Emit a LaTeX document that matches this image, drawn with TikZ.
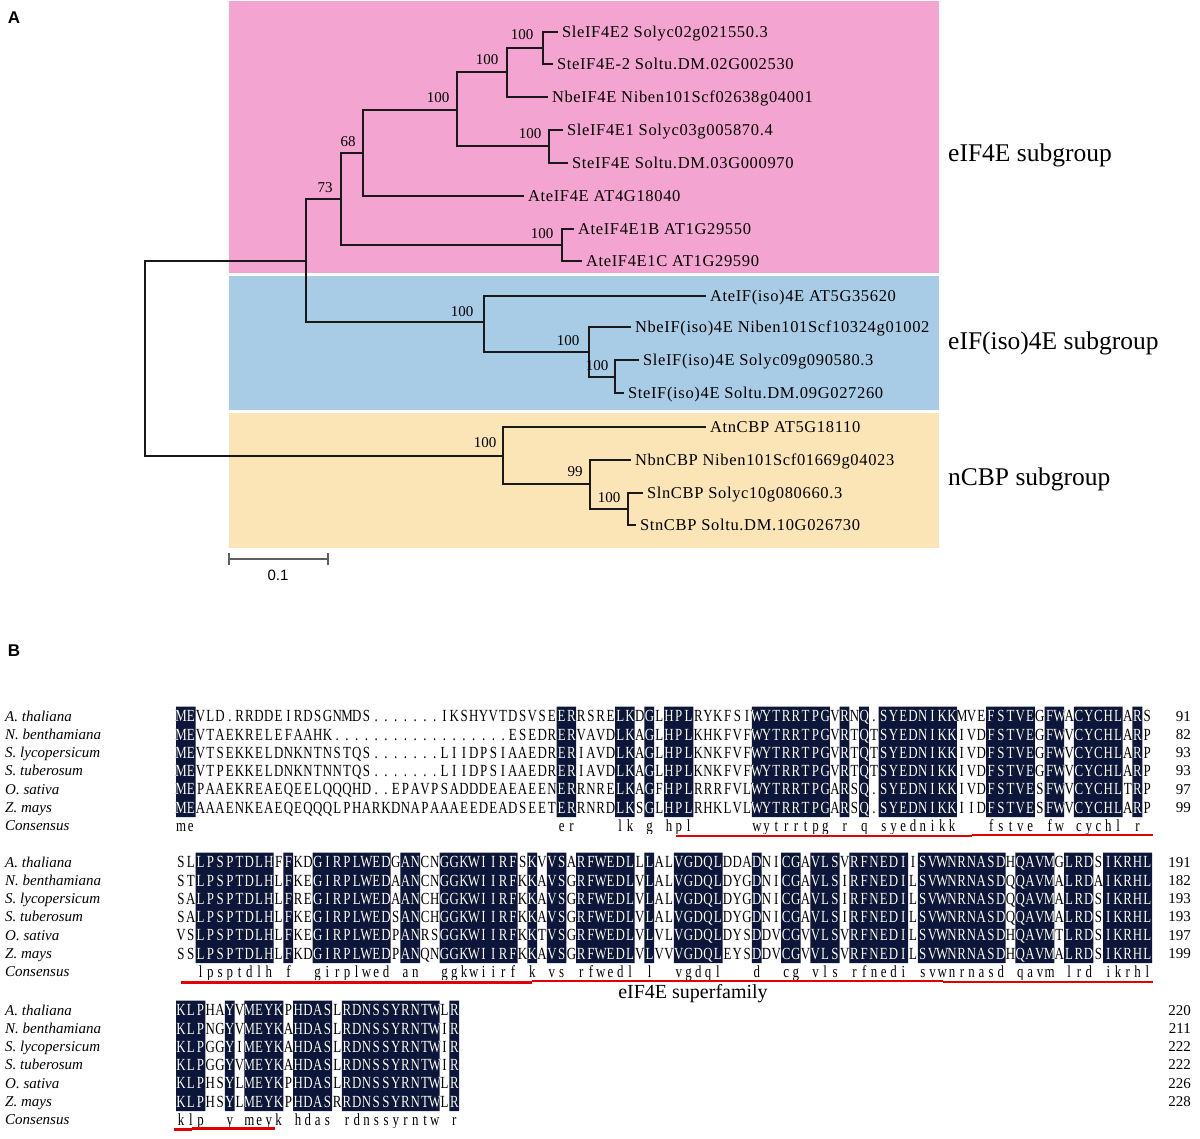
\documentclass[tikz,border=0pt]{standalone}
\usepackage{fontspec}
\setmainfont{Liberation Serif}
\newfontfamily\seqfont[FakeStretch=0.76]{Liberation Serif}
\newfontfamily\treefont[LetterSpace=4]{Liberation Serif}
\newfontfamily\panelfont{Liberation Sans}
\definecolor{pinkbg}{RGB}{244,164,208}
\definecolor{bluebg}{RGB}{168,204,230}
\definecolor{orangebg}{RGB}{251,228,181}
\definecolor{hlnavy}{RGB}{12,22,58}
\definecolor{domred}{RGB}{226,0,0}
\definecolor{bargray}{RGB}{95,95,95}
\newdimen\seqcellw \seqcellw=9.76pt
\def\seqloop#1{\ifx\relax#1\else\seqcell{#1}\expandafter\seqloop\fi}
\def\seqcell#1{\hbox to\seqcellw{\hss#1\hss}}
\newcommand\seqrow[1]{\expandafter\seqloop#1\relax}
\newcommand\lcseqrow[1]{\expandafter\lowercase\expandafter{\expandafter\seqloop#1\relax}}
% block 1
\def\rowAa{MEVLD.RRDDEIRDSGNMDS.......IKSHYVTDSVSEERRSRELKDGLHPLRYKFSIWYTRRTPGVRNQ.SYEDNIKKMVEFSTVEGFWACYCHLARS}
\def\rowAb{MEVTAEKRELEFAAHK..................ESEDRERVAVDLKAGLHPLKHKFVFWYTRRTPGVRTQTSYEDNIKKIVDFSTVEGFWVCYCHLARP}
\def\rowAc{MEVTSEKKELDNKNTNSTQS.......LIIDPSIAAEDRERIAVDLKAGLHPLKNKFVFWYTRRTPGVRTQTSYEDNIKKIVDFSTVEGFWVCYCHLARP}
\def\rowAd{MEVTPEKKELDNKNTNNTQS.......LIIDPSIAAEDRERIAVDLKAGLHPLKNKFVFWYTRRTPGVRTQTSYEDNIKKIVDFSTVEGFWVCYCHLARP}
\def\rowAe{MEPAAEKREAEQEELQQQHD..EPAVPSADDDEAEAEENERRNRELKAGFHPLRRRFVLWYTRRTPGARSQ.SYEDNIKKIVDFSTVESFWVCYCHLTRP}
\def\rowAf{MEAAAENKEAEQEQQQLPHARKDNAPAAAEEDEADSEETERRNRDLKSGLHPLRHKLVLWYTRRTPGARSQ.SYEDNIKKIIDFSTVESFWVCYCHLARP}
\def\rangesA{1/2,40/41,46/47,49/49,51/53,60/67,69/69,71/71,73/80,84/88,90/91,93/97,99/99}
% block 2
\def\rowBa{SLLPSPTDLHFFKDGIRPLWEDGANCNGGKWIIRFSKVVSARFWEDLLLALVGDQLDDADNICGAVLSVRFNEDIISVWNRNASDHQAVMGLRDSIKRHL}
\def\rowBb{STLPSPTDLHLFKEGIRPLWEDAANCNGGKWIIRFKKAVSGRFWEDLVLALVGDQLDYGDNICGAVLSIRFNEDILSVWNRNASDQQAVMALRDAIKRHL}
\def\rowBc{SALPSPTDLHLFREGIRPLWEDAANCHGGKWIIRFKKAVSGRFWEDLVLALVGDQLDYGDNICGAVLSIRFNEDILSVWNRNASDQQAVMALRDSIKRHL}
\def\rowBd{SALPSPTDLHLFKEGIRPLWEDSANCHGGKWIIRFKKAVSGRFWEDLVLALVGDQLDYGDNICGAVLSIRFNEDILSVWNRNASDQQAVMALRDSIKRHL}
\def\rowBe{VSLPSPTDLHLFKEGIRPLWEDPANRSGGKWIIRFKKTVSGRFWEDLVLVLVGDQLDYSDDVCGVVLSVRFNEDILSVWNRNASDHQAVMTLRDSIKRHL}
\def\rowBf{SSLPSPTDLHLFKDGIRPLWEDPANQNGGKWIIRFKKAVSGRFWEDLVLVVVGDQLEYSDDVCGVVLSVRFNEDILSVWNRNASDHQAVMALRDSIKRHL}
\def\rangesB{3/10,12/12,15/22,24/25,28/35,37/37,39/40,42/47,49/49,52/56,60/60,63/64,66/68,70/75,77/85,87/90,92/94,96/100}
% block 3
\def\rowCa{KLPHAYVMEYKPHDASLRDNSSYRNTWLR}
\def\rowCb{KLPNGYVMEYKAHDASLRDNSSYRNTWIR}
\def\rowCc{KLPGGYIMEYKAHDASLRDNSSYRNTWIR}
\def\rowCd{KLPGGYVMEYKAHDASLRDNSSYRNTWIR}
\def\rowCe{KLPHSYLMEYKPHDASLRDNSSYRNTWLR}
\def\rowCf{KLPHSYLMEYKPHDASRRDNSSYRNTWLR}
\def\rangesC{1/3,6/6,8/11,13/16,18/27,29/29}
\newcommand\alignblock[6]{%
  % #1 y0, #2 ranges, #3 rows, #4 numbers, #5 first row, #6 tag
  \fill[hlnavy] \foreach \a/\b in #2 {({176+(\a-1)*9.76},{#1-9.5}) rectangle ({176+\b*9.76},{#1+5*18.3+9.5})};
  \foreach \r [count=\i from 0] in {#3} {\node[seqtext,text=black] (seq#6\i) at (176,{#1+\i*18.3}) {\edef\tmpseq{\r}\seqrow\tmpseq};}
  \begin{scope}
    \clip \foreach \a/\b in #2 {({176+(\a-1)*9.76},{#1-9.5}) rectangle ({176+\b*9.76},{#1+5*18.3+9.5})};
    \foreach \r [count=\i from 0] in {#3} {\node[seqtext,text=white] (hl#6\i) at (176,{#1+\i*18.3}) {\edef\tmpseq{\r}\seqrow\tmpseq};}
  \end{scope}
  \begin{scope}
    \clip \foreach \a/\b in #2 {({176+(\a-1)*9.76},{#1+6*18.3-11}) rectangle ({176+\b*9.76},{#1+6*18.3+8})};
    \node[seqtext] (cons#6) at (176,{#1+6*18.3}) {\lcseqrow#5};
  \end{scope}
  \foreach \nm [count=\i from 0] in {A. thaliana,N. benthamiana,S. lycopersicum,S. tuberosum,O. sativa,Z. mays,Consensus} {\node[spname] (nm#6\i) at (5,{#1+\i*18.3}) {\nm};}
  \foreach \nn [count=\i from 0] in {#4} {\node[seqnum] (num#6\i) at (1191,{#1+\i*18.3}) {\nn};}
}
\begin{document}
\begin{tikzpicture}[x=1pt,y=-1pt,
  treeline/.style={line width=1.3pt, draw=black!90},
  leaflabel/.style={anchor=west, inner sep=0pt, outer xsep=4pt, text height=11.5pt, text depth=0pt, font=\treefont\fontsize{16.5}{19}\selectfont},
  bootlabel/.style={inner sep=0pt, text height=10.5pt, text depth=0pt, font=\fontsize{15}{18}\selectfont},
  grouplabel/.style={anchor=west, inner sep=0pt, text height=17pt, text depth=0pt, font=\fontsize{25.5}{30}\selectfont},
  seqtext/.style={anchor=west, inner sep=0pt, text height=11.5pt, text depth=0pt, font=\seqfont\fontsize{17}{20}\selectfont},
  spname/.style={anchor=west, inner sep=0pt, text height=10pt, text depth=0pt, font=\itshape\fontsize{15}{18}\selectfont},
  seqnum/.style={anchor=east, inner sep=0pt, text height=10pt, text depth=0pt, font=\fontsize{15}{18}\selectfont},
  panel/.style={inner sep=0pt, font=\panelfont\bfseries\fontsize{17}{20}\selectfont},
  domline/.style={draw=domred, line width=2.2pt},
  scalebar/.style={draw=bargray, line width=1.4pt},
]
\fill[white] (0,0) rectangle (1200,1139);
\useasboundingbox (0,0) rectangle (1200,1139);

% ---------------- Panel A ----------------
\node[panel] (labA) at (14,18) {A};
\fill[pinkbg] (229,1) rectangle (939,273);
\fill[bluebg] (229,276) rectangle (939,410);
\fill[orangebg] (229,413) rectangle (939,548);

\coordinate (R) at (145,359);
\coordinate (U) at (306,261);
\coordinate (N) at (503,456);
\coordinate (N73) at (341,199);
\coordinate (ISO) at (484,322);
\coordinate (N68) at (363,153);
\coordinate (AtB) at (562,245);
\coordinate (N100a) at (457,110);
\coordinate (N100b) at (507,72);
\coordinate (N100c) at (543,48);
\coordinate (N100e) at (549,146);
\coordinate (ISO2) at (589,352);
\coordinate (ISO3) at (615,377);
\coordinate (N99) at (590,484);
\coordinate (N100n) at (628,509);

\node[leaflabel] (tSle2) at (558,32) {SleIF4E2 Solyc02g021550.3};
\node[leaflabel] (tSte2) at (553,64) {SteIF4E-2 Soltu.DM.02G002530};
\node[leaflabel] (tNbe) at (548,97) {NbeIF4E Niben101Scf02638g04001};
\node[leaflabel] (tSle1) at (563,130) {SleIF4E1 Solyc03g005870.4};
\node[leaflabel] (tSte1) at (568,163) {SteIF4E Soltu.DM.03G000970};
\node[leaflabel] (tAt) at (524,196) {AteIF4E AT4G18040};
\node[leaflabel] (tAtB) at (574,229) {AteIF4E1B AT1G29550};
\node[leaflabel] (tAtC) at (582,261) {AteIF4E1C AT1G29590};
\node[leaflabel] (tAtiso) at (706,296) {AteIF(iso)4E AT5G35620};
\node[leaflabel] (tNbiso) at (631,327) {NbeIF(iso)4E Niben101Scf10324g01002};
\node[leaflabel] (tSliso) at (639,360) {SleIF(iso)4E Solyc09g090580.3};
\node[leaflabel] (tStiso) at (624,393) {SteIF(iso)4E Soltu.DM.09G027260};
\node[leaflabel] (tAtn) at (706,427) {AtnCBP AT5G18110};
\node[leaflabel] (tNbn) at (631,460) {NbnCBP Niben101Scf01669g04023};
\node[leaflabel] (tSln) at (643,493) {SlnCBP Solyc10g080660.3};
\node[leaflabel] (tStn) at (636,525) {StnCBP Soltu.DM.10G026730};

\draw[treeline] (R) |- (U);
\draw[treeline] (R) |- (N);
\draw[treeline] (U) |- (N73);
\draw[treeline] (U) |- (ISO);
\draw[treeline] (N73) |- (N68);
\draw[treeline] (N73) |- (AtB);
\draw[treeline] (N68) |- (N100a);
\draw[treeline] (N68) |- (tAt);
\draw[treeline] (N100a) |- (N100b);
\draw[treeline] (N100a) |- (N100e);
\draw[treeline] (N100b) |- (N100c);
\draw[treeline] (N100b) |- (tNbe);
\draw[treeline] (N100c) |- (tSle2);
\draw[treeline] (N100c) |- (tSte2);
\draw[treeline] (N100e) |- (tSle1);
\draw[treeline] (N100e) |- (tSte1);
\draw[treeline] (AtB) |- (tAtB);
\draw[treeline] (AtB) |- (tAtC);
\draw[treeline] (ISO) |- (tAtiso);
\draw[treeline] (ISO) |- (ISO2);
\draw[treeline] (ISO2) |- (tNbiso);
\draw[treeline] (ISO2) |- (ISO3);
\draw[treeline] (ISO3) |- (tSliso);
\draw[treeline] (ISO3) |- (tStiso);
\draw[treeline] (N) |- (tAtn);
\draw[treeline] (N) |- (N99);
\draw[treeline] (N99) |- (tNbn);
\draw[treeline] (N99) |- (N100n);
\draw[treeline] (N100n) |- (tSln);
\draw[treeline] (N100n) |- (tStn);

\node[bootlabel] (b1) at (522,34) {100};
\node[bootlabel] (b2) at (487,59) {100};
\node[bootlabel] (b3) at (438,97) {100};
\node[bootlabel] (b4) at (530,133) {100};
\node[bootlabel] (b5) at (348,141) {68};
\node[bootlabel] (b6) at (325,187) {73};
\node[bootlabel] (b7) at (542,233) {100};
\node[bootlabel] (b8) at (462,311) {100};
\node[bootlabel] (b9) at (568,340) {100};
\node[bootlabel] (b10) at (597,365) {100};
\node[bootlabel] (b11) at (485,442) {100};
\node[bootlabel] (b12) at (575,471) {99};
\node[bootlabel] (b13) at (609,497) {100};

\node[grouplabel] (g1) at (948,153) {eIF4E subgroup};
\node[grouplabel] (g2) at (948,341) {eIF(iso)4E subgroup};
\node[grouplabel] (g3) at (948,477) {nCBP subgroup};

\coordinate (sbL) at (229,559);
\coordinate (sbR) at (328,559);
\draw[scalebar] (sbL) -- (sbR);
\draw[scalebar] ([yshift=-6pt]sbL) -- ([yshift=6pt]sbL);
\draw[scalebar] ([yshift=-6pt]sbR) -- ([yshift=6pt]sbR);
\node[inner sep=0pt, font=\panelfont\fontsize{15}{18}\selectfont] (sblab) at (278,575) {0.1};

% ---------------- Panel B ----------------
\node[panel] (labB) at (14,651) {B};
\alignblock{716}{\rangesA}{\rowAa,\rowAb,\rowAc,\rowAd,\rowAe,\rowAf}{91,82,93,93,97,99}{\rowAa}{A}
\alignblock{862}{\rangesB}{\rowBa,\rowBb,\rowBc,\rowBd,\rowBe,\rowBf}{191,182,193,193,197,199}{\rowBa}{B}
\alignblock{1010}{\rangesC}{\rowCa,\rowCb,\rowCc,\rowCd,\rowCe,\rowCf}{220,211,222,222,226,228}{\rowCa}{C}

\draw[domline] (676,836) -- (972,836);
\draw[domline] (972,835) -- (1153,835);
\draw[domline] (181,982.5) -- (532,982.5);
\draw[domline] (532,981) -- (943,981);
\draw[domline] (943,982) -- (1153,982);
\draw[domline] (174,1129.5) -- (192,1129.5);
\draw[domline] (192,1128.5) -- (275,1128.5);
\node[inner sep=0pt, font=\fontsize{20}{24}\selectfont] (superfam) at (693,994) {eIF4E superfamily};
\end{tikzpicture}
\end{document}
